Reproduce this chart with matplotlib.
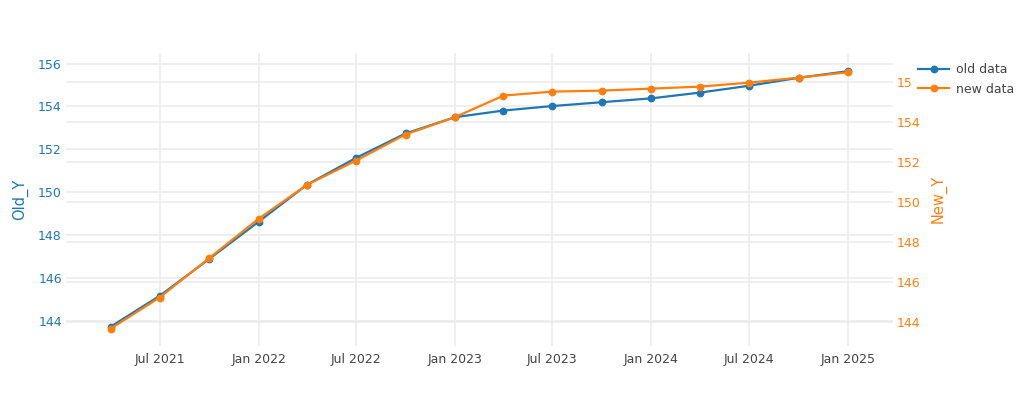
import matplotlib
matplotlib.use("Agg")
import matplotlib.pyplot as plt
import matplotlib.dates as mdates
import numpy as np

plt.rcParams["font.family"] = ["DejaVu Sans"]

dates = np.array(
    [
        "2021-04-01", "2021-07-01", "2021-10-01", "2022-01-01",
        "2022-04-01", "2022-07-01", "2022-10-01", "2023-01-01",
        "2023-04-01", "2023-07-01", "2023-10-01", "2024-01-01",
        "2024-04-01", "2024-07-01", "2024-10-01", "2025-01-01",
    ],
    dtype="datetime64[D]",
)
old_data = [143.72, 145.16, 146.88, 148.62, 150.35, 151.60, 152.74, 153.50,
            153.81, 154.02, 154.20, 154.38, 154.65, 154.97, 155.34, 155.65]
new_data = [143.65, 145.21, 147.18, 149.16, 150.86, 152.07, 153.38, 154.25,
            155.33, 155.53, 155.58, 155.68, 155.78, 155.98, 156.23, 156.50]

blue = "#1f77b4"
orange = "#ff7f0e"
grid_c = "#ebebeb"

fig = plt.figure(figsize=(10.24, 3.95), dpi=100)
ax1 = fig.add_axes([66 / 1024, 49 / 395, (893 - 66) / 1024, (346 - 52.7) / 395])
ax2 = ax1.twinx()

# blue line lives in ax2 (so orange stays on top) but uses the left scale
ax2.plot(dates, old_data, color=blue, lw=1.6, marker="o", ms=4.6,
         transform=ax1.transData, label="old data")
ax2.plot(dates, new_data, color=orange, lw=1.6, marker="o", ms=4.6,
         label="new data")

ax1.set_xlim(np.datetime64("2021-01-08"), np.datetime64("2025-03-25"))
ax1.set_ylim(142.82, 156.51)
ax2.set_ylim(142.78, 157.48)

ax1.set_yticks(np.arange(144, 157, 2))
ax2.set_yticks(np.arange(144, 157, 2))

ax1.xaxis.set_major_locator(mdates.MonthLocator(bymonth=[1, 7]))
ax1.xaxis.set_major_formatter(mdates.DateFormatter("%b %Y"))

for ax in (ax1, ax2):
    for s in ax.spines.values():
        s.set_visible(False)
    ax.grid(True, axis="y", color=grid_c, lw=1.1)
    ax.tick_params(length=0)
ax1.grid(True, axis="x", color=grid_c, lw=1.1)

ax1.tick_params(axis="y", labelcolor=blue, labelsize=9, pad=3)
ax2.tick_params(axis="y", labelcolor=orange, labelsize=9, pad=3)
ax1.tick_params(axis="x", labelcolor="#444444", labelsize=9, pad=5)

ax1.set_ylabel("Old_Y", color=blue, fontsize=10.5, labelpad=7)
ax2.set_ylabel("New_Y", color=orange, fontsize=10.5, labelpad=7)

leg = ax2.legend(
    loc="upper left",
    bbox_to_anchor=(911 / 1024, 1 - 56 / 395),
    bbox_transform=fig.transFigure,
    frameon=True,
    facecolor="white",
    edgecolor="white",
    framealpha=1,
    fancybox=False,
    fontsize=9,
    handlelength=2.5,
    handletextpad=0.55,
    labelspacing=0.55,
    borderpad=0.55,
    borderaxespad=0,
)
for t in leg.get_texts():
    t.set_color("#444444")

fig.savefig("out.png", dpi=100)
